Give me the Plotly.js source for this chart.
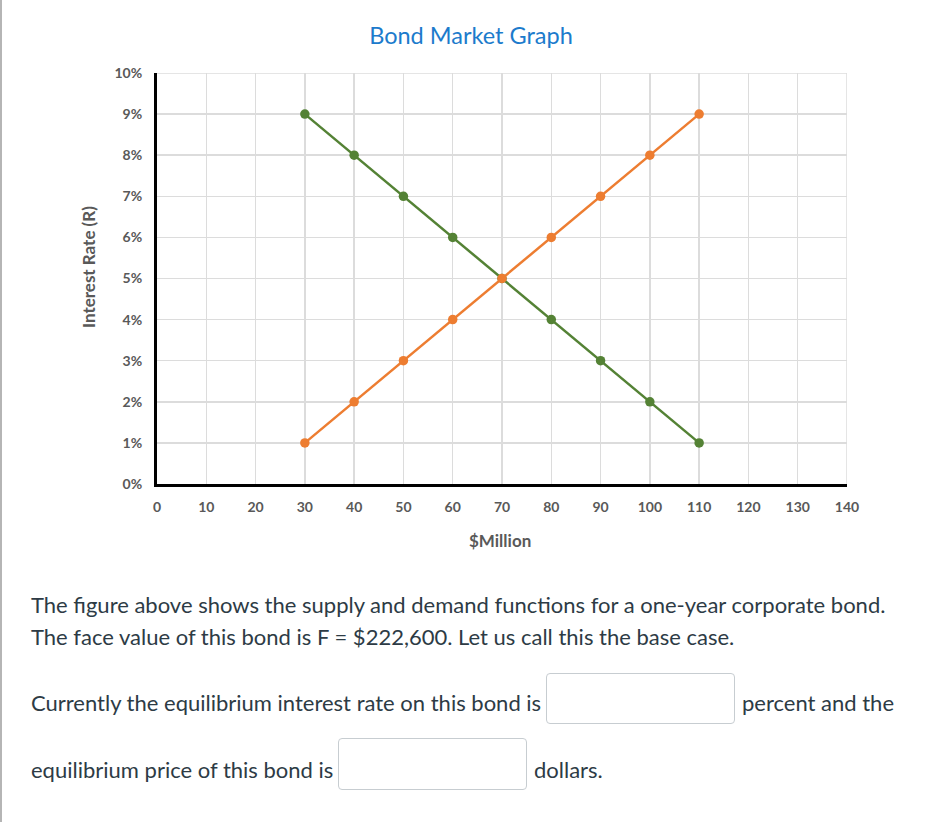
<!DOCTYPE html>
<html>
<head>
<meta charset="utf-8">
<script src="https://cdn.plot.ly/plotly-3.0.1.min.js"></script>
<style>
  html, body { margin:0; padding:0; background:#fff; width:928px; height:822px; overflow:hidden; }
  #frame { position:absolute; left:0; top:0; width:2px; height:822px; background:#b5b5b5; z-index:10; }
  #chart { position:absolute; left:0; top:0; width:928px; height:570px; }
  .q { position:absolute; font-family:Lato, "Open Sans", sans-serif; font-size:22px; color:#2d3b45; white-space:nowrap; line-height:26px; z-index:5; }
  .box { position:absolute; border:1px solid #c7cdd1; border-radius:4px; background:#fff; z-index:5; }
</style>
</head>
<body>
<div id="chart"></div>
<div id="frame"></div>
<div class="q" style="left:31px; top:592px;">The figure above shows the supply and demand functions for a one-year corporate bond.</div>
<div class="q" style="left:31px; top:624px;">The face value of this bond is F = $222,600. Let us call this the base case.</div>
<div class="q" style="left:31px; top:690px;">Currently the equilibrium interest rate on this bond is</div>
<div class="box" style="left:546px; top:673px; width:187px; height:49px;"></div>
<div class="q" style="left:742px; top:690px;">percent and the</div>
<div class="q" style="left:31px; top:757px;">equilibrium price of this bond is</div>
<div class="box" style="left:338px; top:738px; width:187px; height:50px;"></div>
<div class="q" style="left:534px; top:757px;">dollars.</div>
<script>
const quantity = [30, 40, 50, 60, 70, 80, 90, 100, 110];
const demandRate = [9, 8, 7, 6, 5, 4, 3, 2, 1];
const supplyRate = [1, 2, 3, 4, 5, 6, 7, 8, 9];
const xTicks = [0, 10, 20, 30, 40, 50, 60, 70, 80, 90, 100, 110, 120, 130, 140];
const yTicks = [0, 1, 2, 3, 4, 5, 6, 7, 8, 9, 10];

const tickFont = {family: 'Lato, "Open Sans", sans-serif', size: 14, color: '#595959', weight: 'bold'};
const titleFont = {family: 'Lato, "Open Sans", sans-serif', size: 17, color: '#595959', weight: 'bold'};

const traces = [
  {x: quantity, y: demandRate, mode: 'lines+markers', name: 'Demand',
   line: {color: '#548235', width: 2.5}, marker: {color: '#548235', size: 9.5}},
  {x: quantity, y: supplyRate, mode: 'lines+markers', name: 'Supply',
   line: {color: '#ED7D31', width: 2.5}, marker: {color: '#ED7D31', size: 9.5}}
];

const layout = {
  width: 928, height: 570,
  margin: {l: 157, r: 81, t: 73, b: 86},
  paper_bgcolor: '#ffffff', plot_bgcolor: '#ffffff',
  showlegend: false,
  title: {text: 'Bond Market Graph', xref: 'container', x: 471/928, xanchor: 'center',
          yref: 'container', y: 1 - 36/570, yanchor: 'middle',
          font: {family: 'Lato, "Open Sans", sans-serif', size: 23.5, color: '#1c7bcc'}},
  xaxis: {range: [0, 140], tickvals: xTicks, ticktext: xTicks.map(String),
          showgrid: true, gridcolor: '#dcdcdc', gridwidth: 1.5, zeroline: false,
          showline: true, linecolor: '#000', linewidth: 3,
          ticks: '', ticklabelstandoff: 8, tickfont: tickFont, fixedrange: true},
  yaxis: {range: [0, 10], tickvals: yTicks, ticktext: yTicks.map(v => v + '%'),
          showgrid: true, gridcolor: '#dcdcdc', gridwidth: 1.5, zeroline: false,
          showline: true, linecolor: '#000', linewidth: 3,
          ticks: '', ticklabelstandoff: 9, tickfont: tickFont, fixedrange: true},
  shapes: [
    {type: 'line', xref: 'x', yref: 'paper', x0: 140, x1: 140, y0: 0, y1: 1, line: {color: '#dcdcdc', width: 1.5}, layer: 'below'},
    {type: 'line', xref: 'paper', yref: 'y', x0: 0, x1: 1, y0: 10, y1: 10, line: {color: '#dcdcdc', width: 1.5}, layer: 'below'}
  ],
  annotations: [
    {text: '$Million', xref: 'paper', yref: 'paper', x: (500-157)/690, y: -(540-484)/411,
     showarrow: false, xanchor: 'center', yanchor: 'middle', font: titleFont},
    {text: 'Interest Rate (R)', xref: 'paper', yref: 'paper', x: -(157-88)/690, y: (484-267)/411,
     showarrow: false, xanchor: 'center', yanchor: 'middle', textangle: -90, font: titleFont}
  ]
};

Plotly.newPlot('chart', traces, layout, {displayModeBar: false, staticPlot: true});
</script>
</body>
</html>
